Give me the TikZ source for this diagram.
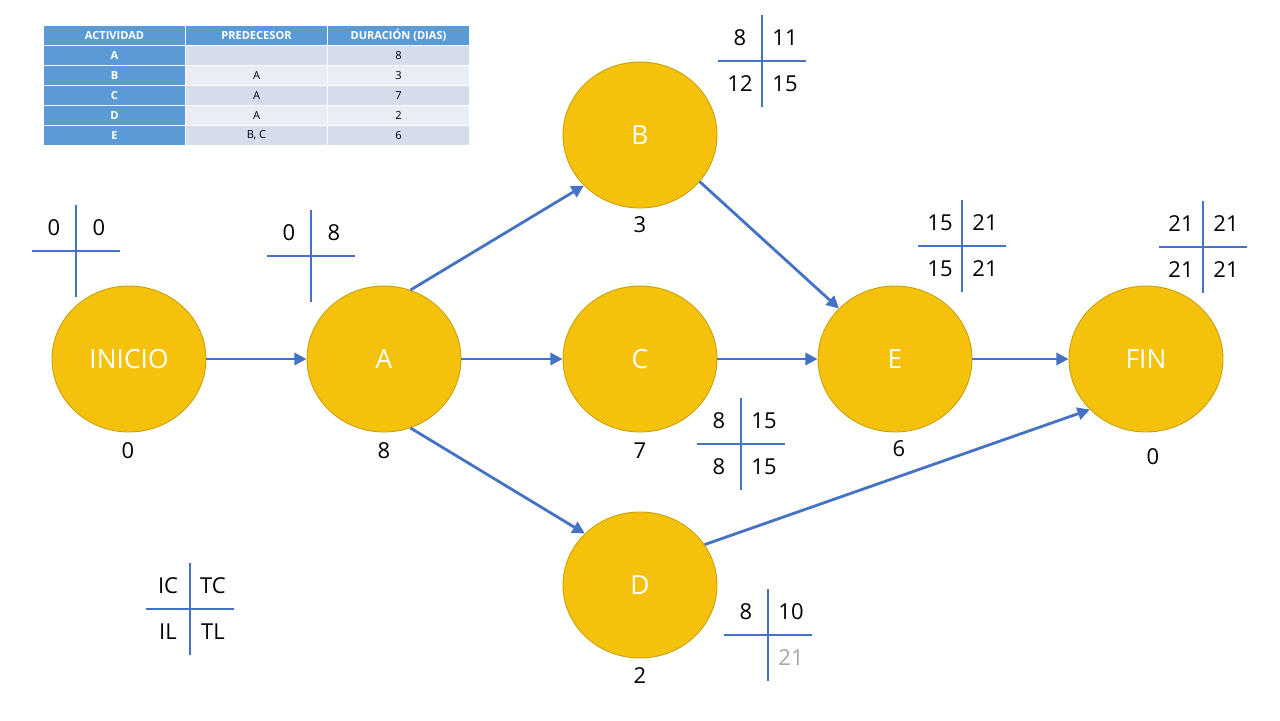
\documentclass[tikz,border=0pt]{standalone}
\usepackage{fontspec}
\setmainfont{Open Sans}
\usetikzlibrary{arrows.meta,shapes.geometric,calc}

\definecolor{nodeyellow}{HTML}{F4C20D}
\definecolor{nodeedge}{HTML}{C9A00A}
\definecolor{arcblue}{HTML}{4472C4}
\definecolor{headblue}{HTML}{5B9BD5}
\definecolor{rowdark}{HTML}{D5DCEB}
\definecolor{rowlight}{HTML}{E9EDF5}

\tikzset{
    activity/.style={ellipse,fill=nodeyellow,draw=nodeedge,line width=0.5pt,
        minimum width=154*0.02cm,minimum height=146*0.02cm,inner sep=0pt,
        text=white,font=\fontsize{15}{15}\selectfont},
    arc/.style={-{Triangle[length=7pt,width=7pt]},arcblue,line width=1.6pt},
    crossline/.style={arcblue,line width=1.4pt},
    num/.style={font=\fontsize{12.5}{13}\selectfont},
    cell/.style={minimum width=141*0.02cm,minimum height=19*0.02cm,inner sep=0pt,
        font=\fontsize{6.3}{7}\selectfont},
    headcell/.style={cell,fill=headblue,text=white,font=\fontsize{6.3}{7}\selectfont\bfseries}
}

% cross: name, x, y, top left, top right, bottom left, bottom right
\newcommand{\timecross}[7]{
    \coordinate (#1) at (#2,#3);
    \draw[crossline] ($(#1)+(0,-46)$) -- ($(#1)+(0,46)$);
    \draw[crossline] ($(#1)+(-44,0)$) -- ($(#1)+(44,0)$);
    \node[num] (#1tl) at ($(#1)+(-22,-23)$) {#4};
    \node[num] (#1tr) at ($(#1)+(23,-23)$) {#5};
    \node[num] (#1bl) at ($(#1)+(-22,23)$) {#6};
    \node[num] (#1br) at ($(#1)+(23,23)$) {#7};
}

\begin{document}
\begin{tikzpicture}[x=0.02cm,y=-0.02cm]
    \useasboundingbox (0,0) rectangle (1280,720);

    %%%% Table =====================================
    \foreach \r/\act/\pre/\dur in {0/ACTIVIDAD/PREDECESOR/DURACIÓN (DIAS),1/A//8,2/B/A/3,3/C/A/7,4/D/A/2,5/E/{B, C}/6}{
        \pgfmathsetmacro{\yy}{35.5+20*\r}
        \ifnum\r=0
            \node[headcell] (h1) at (114.5,\yy) {\act};
            \node[headcell] (h2) at (256.5,\yy) {\pre};
            \node[headcell] (h3) at (398.5,\yy) {\dur};
        \else
            \ifodd\r \def\rowfill{rowdark}\else \def\rowfill{rowlight}\fi
            \node[headcell] (a\r) at (114.5,\yy) {\act};
            \node[cell,fill=\rowfill] (p\r) at (256.5,\yy) {\pre};
            \node[cell,fill=\rowfill] (d\r) at (398.5,\yy) {\dur};
        \fi
    }

    %%%% Activities ================================
    \node[activity] (inicio) at (129,359) {INICIO};
    \node[activity] (A) at (384,359) {A};
    \node[activity] (B) at (640,135) {B};
    \node[activity] (C) at (640,359) {C};
    \node[activity] (D) at (640,585) {D};
    \node[activity] (E) at (895,359) {E};
    \node[activity] (fin) at (1146,359) {FIN};

    % Durations
    \node[num] (durinicio) at (128,451) {0};
    \node[num] (durA) at (384,451) {8};
    \node[num] (durB) at (640,225) {3};
    \node[num] (durC) at (640,451) {7};
    \node[num] (durD) at (640,676) {2};
    \node[num] (durE) at (899,449) {6};
    \node[num] (durfin) at (1153,457) {0};

    %%%% Arcs ======================================
    \draw[arc] (inicio) -- (A);
    \draw[arc] (A.69) -- (B.222);
    \draw[arc] (A) -- (C);
    \draw[arc] (A.-69) -- (D.137);
    \draw[arc] (B.-38) -- (E.138);
    \draw[arc] (C) -- (E);
    \draw[arc] (E) -- (fin);
    \draw[arc] (D.32) -- (fin.222);

    %%%% Times =====================================
    \timecross{tinicio}{76}{251}{0}{0}{}{}
    \timecross{tA}{311}{256}{0}{8}{}{}
    \timecross{tB}{762}{61}{8}{11}{12}{15}
    \timecross{tC}{741}{444}{8}{15}{8}{15}
    \timecross{tD}{768}{635}{8}{10}{}{\textcolor{gray!70}{21}}
    \timecross{tE}{962}{246}{15}{21}{15}{21}
    \timecross{tfin}{1203}{247}{21}{21}{21}{21}

    % Legend
    \timecross{legend}{190}{609}{IC}{TC}{IL}{TL}
\end{tikzpicture}
\end{document}
